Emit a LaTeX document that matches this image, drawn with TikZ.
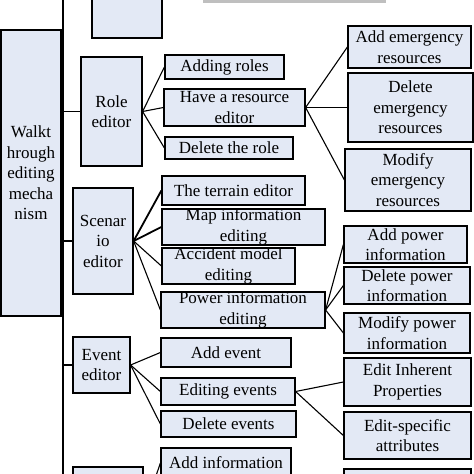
\documentclass[tikz,border=0pt]{standalone}
\usepackage{fontspec}
\setmainfont{Liberation Serif}
\definecolor{boxfill}{RGB}{227,233,245}
\begin{document}
\begin{tikzpicture}[x=1pt, y=-1pt,
  box/.style={draw=black, fill=boxfill, line width=1.2pt, inner sep=0pt, align=center,
    font=\fontsize{17}{20.5}\selectfont},
  link/.style={draw=black, line width=1.1pt}]
\useasboundingbox (0,0) rectangle (474,474);
\fill [black!25] (203,0) rectangle (386,2.5);
\coordinate (trunktop) at (63,-20);
\coordinate (trunkbot) at (63,600);
\draw [link] (trunktop) -- (trunkbot);
\node [box, minimum width=60, minimum height=286] (walk) at (31,173) {Walkt\\hrough\\editing\\mecha\\nism};
\node [box, minimum width=70, minimum height=58] (topbox) at (127,9) {};
\node [box, minimum width=61, minimum height=109] (role) at (111.5,111.5) {Role\\editor};
\node [box, minimum width=119, minimum height=24] (addrole) at (224.5,67) {Adding roles};
\node [box, minimum width=141, minimum height=37] (resedit) at (234.5,107.5) {Have a resource\\editor};
\node [box, minimum width=128, minimum height=22] (delrole) at (229,148) {Delete the role};
\node [box, minimum width=123, minimum height=42] (addem) at (409.5,47) {Add emergency\\resources};
\node [box, minimum width=125, minimum height=69] (delem) at (410.5,107.5) {Delete\\emergency\\resources};
\node [box, minimum width=126, minimum height=62] (modem) at (408,180) {Modify\\emergency\\resources};
\node [box, minimum width=60, minimum height=106] (scen) at (103,241) {Scenar\\io\\editor};
\node [box, minimum width=143, minimum height=29] (terrain) at (233.5,190.5) {The terrain editor};
\node [box, minimum width=163, minimum height=34] (mapinfo) at (243.5,227) {Map information\\editing};
\node [box, minimum width=133, minimum height=36] (accident) at (228.5,266) {Accident model\\editing};
\node [box, minimum width=164, minimum height=36] (power) at (243,310) {Power information\\editing};
\node [box, minimum width=123, minimum height=37] (addpow) at (405.5,244.5) {Add power\\information};
\node [box, minimum width=126, minimum height=37] (delpow) at (407,285.5) {Delete power\\information};
\node [box, minimum width=126, minimum height=40] (modpow) at (407,333) {Modify power\\information};
\node [box, minimum width=57, minimum height=56] (event) at (101.5,365) {Event\\editor};
\node [box, minimum width=130, minimum height=29] (addev) at (226,352.5) {Add event};
\node [box, minimum width=134, minimum height=27] (editev) at (228,391.5) {Editing events};
\node [box, minimum width=135, minimum height=26] (delev) at (228.5,424) {Delete events};
\node [box, minimum width=127, minimum height=48] (inherent) at (407.5,382) {Edit Inherent\\Properties};
\node [box, minimum width=127, minimum height=47] (specific) at (407.5,435.5) {Edit-specific\\attributes};
\node [box, minimum width=127, minimum height=42] (lastbox) at (407.5,490) {};
\node [box, minimum width=70, minimum height=90] (infoed) at (108,512) {};
\node [box, minimum width=130, minimum height=30] (addinfo) at (226,463) {Add information};
\draw [link] (role.west) -- (role.west -| trunktop);
\draw [link] (scen.west) -- (scen.west -| trunktop);
\draw [link] (event.west) -- (event.west -| trunktop);
\draw [link] (infoed.west) -- (infoed.west -| trunktop);
\draw [link] (role.east) -- (addrole.west);
\draw [link] (role.east) -- (resedit.west);
\draw [link] (role.east) -- (delrole.west);
\draw [link] (resedit.east) -- (addem.west);
\draw [link] (resedit.east) -- (delem.west);
\draw [link] (resedit.east) -- (modem.west);
\draw [link, line width=1.8pt] (scen.east) -- (terrain.west);
\draw [link, line width=1.8pt] (scen.east) -- (mapinfo.west);
\draw [link] (scen.east) -- (accident.west);
\draw [link] (scen.east) -- (power.west);
\draw [link] (power.east) -- (addpow.west);
\draw [link] (power.east) -- (delpow.west);
\draw [link] (power.east) -- (modpow.west);
\draw [link] (event.east) -- (addev.west);
\draw [link] (event.east) -- (editev.west);
\draw [link] (event.east) -- (delev.west);
\draw [link] (editev.east) -- (inherent.west);
\draw [link] (editev.east) -- (specific.west);
\draw [link] (infoed.east) -- (addinfo.west);
\end{tikzpicture}
\end{document}
